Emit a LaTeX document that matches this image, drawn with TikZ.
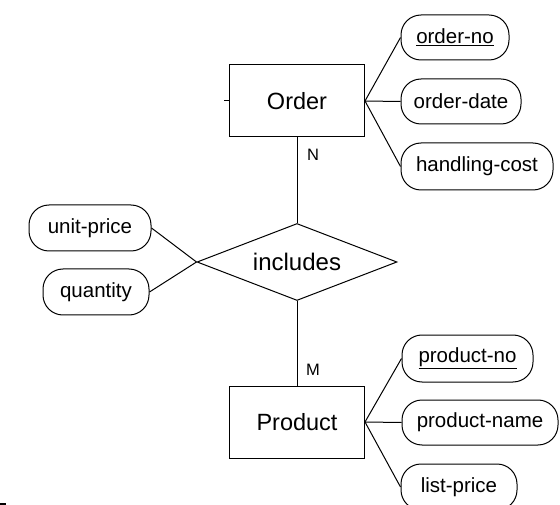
\documentclass[tikz,border=0pt]{standalone}
\usepackage{fontspec}
\setmainfont{Liberation Sans}
\usetikzlibrary{shapes.geometric}
\begin{document}
\begin{tikzpicture}[x=1pt,y=-1pt,line width=1pt,
  entity/.style={draw,rectangle,inner sep=0pt,minimum width=135pt,minimum height=72pt,font=\fontsize{23.5}{26}\selectfont},
  attr/.style={draw,rectangle,rounded corners=20pt,inner sep=0pt,minimum height=46pt,font=\fontsize{20.5}{23}\selectfont},
  rel/.style={draw,diamond,aspect=2.6,inner sep=0pt,minimum width=200pt,minimum height=77pt,font=\fontsize{24}{27}\selectfont},
  card/.style={font=\fontsize{16.5}{18}\selectfont,inner sep=0pt}]
\useasboundingbox (0,0) rectangle (560,505);
\clip (0,0) rectangle (560,505);
\node[entity] (order) at (297,101) {Order};
\node[entity] (product) at (297,422) {Product};
\node[rel] (inc) at (297,262) {includes};
\node[attr,minimum width=108pt,minimum height=45pt] (ono) at (455,37.5) {\underline{order-no}};
\node[attr,minimum width=120pt,minimum height=45pt] (odate) at (461,101.5) {order-date};
\node[attr,minimum width=152pt,minimum height=47pt] (hcost) at (477,166.5) {handling-cost};
\node[attr,minimum width=122pt] (uprice) at (90,228) {unit-price};
\node[attr,minimum width=106pt] (qty) at (96,292) {quantity};
\node[attr,minimum width=131pt,minimum height=47pt] (pno) at (467.5,358.5) {\underline{product-no}};
\node[attr,minimum width=156pt,minimum height=45pt] (pname) at (480,422.5) {product-name};
\node[attr,minimum width=116pt,minimum height=46pt] (lprice) at (459,487) {list-price};
\node[card] (N) at (313,155) {N};
\node[card] (M) at (313,370) {M};
\coordinate (stub) at (224,101);
\coordinate (m1) at (0,504);
\coordinate (m2) at (6,504);
\draw (order.east) -- (ono.west);
\draw (order.east) -- (odate.west);
\draw (order.east) -- (hcost.west);
\draw (product.east) -- (pno.west);
\draw (product.east) -- (pname.west);
\draw (product.east) -- (lprice.west);
\draw (order.south) -- (inc.north);
\draw (inc.south) -- (product.north);
\draw (uprice.east) -- (inc.west);
\draw (qty.east) -- (inc.west);
\draw (order.west) -- (stub);
\draw[line width=2pt] (m1) -- (m2);
\end{tikzpicture}
\end{document}
